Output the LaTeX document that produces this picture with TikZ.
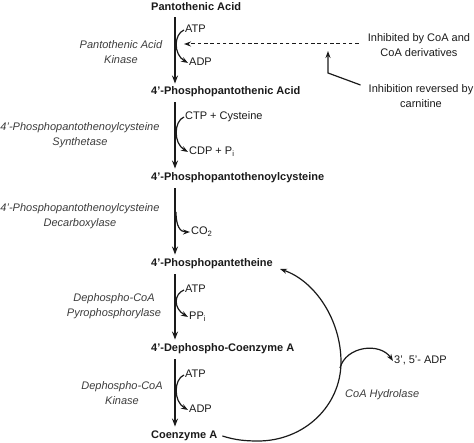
\documentclass[tikz,border=0pt]{standalone}
\usepackage{fontspec}
\setmainfont{Liberation Sans}
\usetikzlibrary{arrows.meta,calc}
\definecolor{ink}{HTML}{1A1A1A}
\begin{document}
\begin{tikzpicture}[x=1pt,y=-1pt,color=ink,
  cpd/.style={anchor=west,inner sep=0pt,text height=8pt,text depth=2.5pt,font=\fontsize{11}{13}\selectfont\bfseries},
  enz/.style={align=center,inner sep=0pt,text=ink!85,font=\fontsize{11}{14.5}\selectfont\itshape},
  side/.style={anchor=west,inner sep=0pt,text height=8pt,text depth=2.5pt,font=\fontsize{11}{13}\selectfont},
  note/.style={align=center,inner sep=0pt,font=\fontsize{11}{15}\selectfont},
  mainarr/.style={line width=1.2pt,-{Stealth[length=8pt,width=6pt]}},
  sidearr/.style={line width=1.2pt,-{Stealth[length=7pt,width=5pt]}},
  dasharr/.style={line width=1pt,dash pattern=on 3.5pt off 2.8pt,-{Stealth[length=7pt,width=5pt]}},
]
\useasboundingbox (0,0) rectangle (474,443);

% compounds
\node[cpd] (pa)  at (151,8)   {Pantothenic Acid};
\node[cpd] (ppa) at (151,92)  {4'-Phosphopantothenic Acid};
\node[cpd] (ppc) at (151,178) {4'-Phosphopantothenoylcysteine};
\node[cpd] (ppt) at (151,264) {4'-Phosphopantetheine};
\node[cpd] (dpc) at (151,349) {4'-Dephospho-Coenzyme A};
\node[cpd] (coa) at (151,436) {Coenzyme A};

% main arrows
\draw[mainarr] ($(pa.south west)+(24,4)$)  -- ($(ppa.north west)+(24,-3)$);
\draw[mainarr] ($(ppa.south west)+(24,5)$) -- ($(ppc.north west)+(24,-4)$);
\draw[mainarr] ($(ppc.south west)+(24,5)$) -- ($(ppt.north west)+(24,-4)$);
\draw[mainarr] ($(ppt.south west)+(24,5)$) -- ($(dpc.north west)+(24,-4)$);
\draw[mainarr] ($(dpc.south west)+(24,5)$) -- ($(coa.north west)+(24,-4)$);

% enzymes
\node[enz] (e1) at (121,52)  {Pantothenic Acid\\Kinase};
\node[enz] (e2) at (80,135)  {4'-Phosphopantothenoylcysteine\\Synthetase};
\node[enz] (e3) at (80,216)  {4'-Phosphopantothenoylcysteine\\Decarboxylase};
\node[enz] (e4) at (114,306) {Dephospho-CoA\\Pyrophosphorylase};
\node[enz] (e5) at (122,393) {Dephospho-CoA\\Kinase};

% side substrates / products
\node[side] (atp1) at (185,30)  {ATP};
\node[side] (adp1) at (189,63)  {ADP};
\node[side] (ctp)  at (185,117) {CTP + Cysteine};
\node[side] (cdp)  at (189,152) {CDP + P\textsubscript{i}};
\node[side] (co2)  at (191,232) {CO\textsubscript{2}};
\node[side] (atp4) at (185,290) {ATP};
\node[side] (ppi)  at (189,317) {PP\textsubscript{i}};
\node[side] (atp5) at (185,375) {ATP};
\node[side] (adp5) at (189,410) {ADP};

\draw[sidearr] ([xshift=-1pt]atp1.west) .. controls +(-10,4) and +(-15,-9) .. ([xshift=-1pt]adp1.west);
\draw[sidearr] ([xshift=-1pt]ctp.west)  .. controls +(-10,4) and +(-15,-9) .. ([xshift=-1pt]cdp.west);
\coordinate (c3) at (176,212);
\draw[sidearr] (c3) .. controls (176,226) and (180,232) .. ([xshift=-1pt]co2.west);
\draw[sidearr] ([xshift=-1pt]atp4.west) .. controls +(-10,4) and +(-15,-9) .. ([xshift=-1pt]ppi.west);
\draw[sidearr] ([xshift=-1pt]atp5.west) .. controls +(-10,4) and +(-15,-9) .. ([xshift=-1pt]adp5.west);

% inhibition
\node[note] (inh) at (419,45) {Inhibited by CoA and\\CoA derivatives};
\node[note] (rev) at (421,96) {Inhibition reversed by\\carnitine};
\coordinate (dashend) at (184,44);
\draw[dasharr] (inh.west) ++(-9,-1) -- (dashend);
\coordinate (bend) at (328,73);
\coordinate (revtip) at (328,51);
\draw[sidearr] ($(rev.west)+(-8,-11)$) -- (bend) -- (revtip);

% recycling loop
\coordinate (lb) at (258,441);
\coordinate (lr) at (341,362);
\draw[sidearr] ($(coa.east)+(5,0)$) .. controls (235,440) and (245,441) .. (lb)
  .. controls (304,441) and (341,406) .. (lr)
  .. controls (341,320) and (315,281) .. ($(ppt.east)+(7,5)$);

\node[side] (adp35) at (394,361) {3', 5'- ADP};
\node[side,text=ink!85,font=\fontsize{11}{13}\selectfont\itshape] (hyd) at (345,395) {CoA Hydrolase};
\coordinate (br) at (340,368);
\draw[sidearr] (br) .. controls (346,346) and (380,342) .. ([xshift=-1pt]adp35.west);
\end{tikzpicture}
\end{document}
